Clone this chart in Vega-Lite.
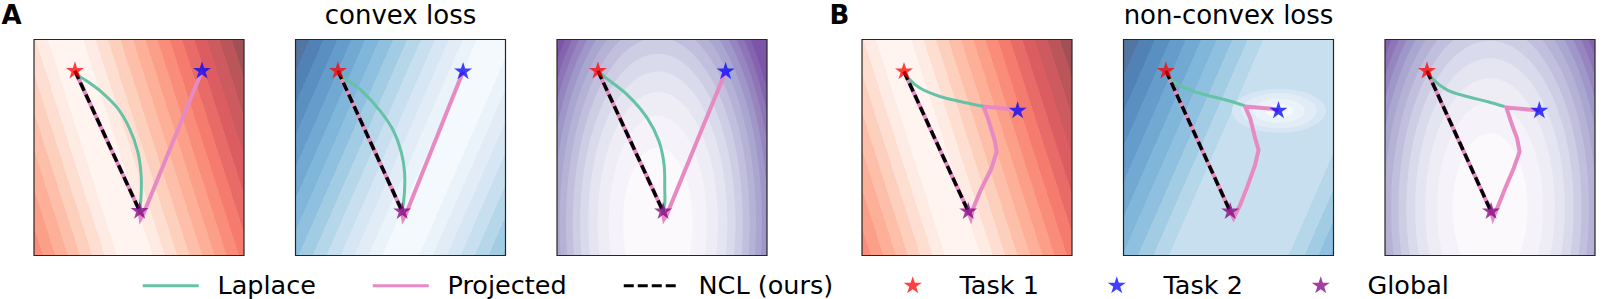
{
"$schema": "https://vega.github.io/schema/vega-lite/v6.json",
"padding": {"left": 1, "top": 2.5, "right": 2, "bottom": 0},
"resolve": {"scale": {"color": "independent", "size": "independent"}},
"datasets": {
"lines": [
{"p":1,"s":"Laplace","o":0,"x":19.5,"y":14.5},{"p":1,"s":"Laplace","o":1,"x":20.8,"y":16.3},{"p":1,"s":"Laplace","o":2,"x":26,"y":19.8},{"p":1,"s":"Laplace","o":3,"x":31.9,"y":24.1},{"p":1,"s":"Laplace","o":4,"x":39.8,"y":31.8},{"p":1,"s":"Laplace","o":5,"x":45.4,"y":41},{"p":1,"s":"Laplace","o":6,"x":49.4,"y":51.9},{"p":1,"s":"Laplace","o":7,"x":51,"y":62.6},{"p":1,"s":"Laplace","o":8,"x":51,"y":71.9},{"p":1,"s":"Laplace","o":9,"x":50.3,"y":79.4},
{"p":1,"s":"Projected","o":0,"x":19.5,"y":14.5},{"p":1,"s":"Projected","o":1,"x":50.3,"y":79.4},{"p":1,"s":"Projected","o":2,"x":50.8,"y":83},{"p":1,"s":"Projected","o":3,"x":52,"y":81},{"p":1,"s":"Projected","o":4,"x":80,"y":14.5},
{"p":1,"s":"NCL (ours)","o":0,"x":19.5,"y":14.5},{"p":1,"s":"NCL (ours)","o":1,"x":50.3,"y":79.4},
{"p":2,"s":"Laplace","o":0,"x":20.2,"y":14.5},{"p":2,"s":"Laplace","o":1,"x":21.4,"y":16.4},{"p":2,"s":"Laplace","o":2,"x":31,"y":23.3},{"p":2,"s":"Laplace","o":3,"x":40.5,"y":33.3},{"p":2,"s":"Laplace","o":4,"x":46.8,"y":42.6},{"p":2,"s":"Laplace","o":5,"x":50.3,"y":51.9},{"p":2,"s":"Laplace","o":6,"x":51.9,"y":61.1},{"p":2,"s":"Laplace","o":7,"x":51.9,"y":70.4},{"p":2,"s":"Laplace","o":8,"x":50.8,"y":79.6},
{"p":2,"s":"Projected","o":0,"x":20.2,"y":14.5},{"p":2,"s":"Projected","o":1,"x":50.8,"y":79.6},{"p":2,"s":"Projected","o":2,"x":51.3,"y":83},{"p":2,"s":"Projected","o":3,"x":52.5,"y":81},{"p":2,"s":"Projected","o":4,"x":79.8,"y":14.8},
{"p":2,"s":"NCL (ours)","o":0,"x":20.2,"y":14.5},{"p":2,"s":"NCL (ours)","o":1,"x":50.8,"y":79.6},
{"p":3,"s":"Laplace","o":0,"x":19.5,"y":14.5},{"p":3,"s":"Laplace","o":1,"x":22.4,"y":17.1},{"p":3,"s":"Laplace","o":2,"x":33.5,"y":25.6},{"p":3,"s":"Laplace","o":3,"x":43,"y":36.4},{"p":3,"s":"Laplace","o":4,"x":48.6,"y":47.2},{"p":3,"s":"Laplace","o":5,"x":51,"y":58},{"p":3,"s":"Laplace","o":6,"x":51.3,"y":68.8},{"p":3,"s":"Laplace","o":7,"x":51.3,"y":76},{"p":3,"s":"Laplace","o":8,"x":50.5,"y":79.6},
{"p":3,"s":"Projected","o":0,"x":19.5,"y":14.5},{"p":3,"s":"Projected","o":1,"x":50.5,"y":79.6},{"p":3,"s":"Projected","o":2,"x":51,"y":83},{"p":3,"s":"Projected","o":3,"x":52.3,"y":81},{"p":3,"s":"Projected","o":4,"x":80.3,"y":14.8},
{"p":3,"s":"NCL (ours)","o":0,"x":19.5,"y":14.5},{"p":3,"s":"NCL (ours)","o":1,"x":50.5,"y":79.6},
{"p":4,"s":"Laplace","o":0,"x":20,"y":14.8},{"p":4,"s":"Laplace","o":1,"x":22.1,"y":17.9},{"p":4,"s":"Laplace","o":2,"x":27.6,"y":22.5},{"p":4,"s":"Laplace","o":3,"x":37.1,"y":26.4},{"p":4,"s":"Laplace","o":4,"x":46.7,"y":28.7},{"p":4,"s":"Laplace","o":5,"x":57.8,"y":31},
{"p":4,"s":"Projected","o":0,"x":20,"y":14.8},{"p":4,"s":"Projected","o":1,"x":50.6,"y":79.6},{"p":4,"s":"Projected","o":2,"x":51.8,"y":82.7},{"p":4,"s":"Projected","o":3,"x":53,"y":78.1},{"p":4,"s":"Projected","o":4,"x":56.2,"y":70.4},{"p":4,"s":"Projected","o":5,"x":61.7,"y":59.6},{"p":4,"s":"Projected","o":6,"x":64.1,"y":51.9},{"p":4,"s":"Projected","o":7,"x":63.3,"y":47.2},{"p":4,"s":"Projected","o":8,"x":60.2,"y":37.2},{"p":4,"s":"Projected","o":9,"x":57.8,"y":31},{"p":4,"s":"Projected","o":10,"x":72,"y":32.3},{"p":4,"s":"Projected","o":11,"x":74.1,"y":32.9},
{"p":4,"s":"NCL (ours)","o":0,"x":20,"y":14.8},{"p":4,"s":"NCL (ours)","o":1,"x":50.6,"y":79.6},
{"p":5,"s":"Laplace","o":0,"x":20.2,"y":14.5},{"p":5,"s":"Laplace","o":1,"x":22.2,"y":17.9},{"p":5,"s":"Laplace","o":2,"x":29.4,"y":22.5},{"p":5,"s":"Laplace","o":3,"x":38.9,"y":25.6},{"p":5,"s":"Laplace","o":4,"x":48.4,"y":27.9},{"p":5,"s":"Laplace","o":5,"x":57.6,"y":30.6},
{"p":5,"s":"Projected","o":0,"x":20.2,"y":14.5},{"p":5,"s":"Projected","o":1,"x":50.8,"y":79.6},{"p":5,"s":"Projected","o":2,"x":52.4,"y":82.7},{"p":5,"s":"Projected","o":3,"x":55.6,"y":76.5},{"p":5,"s":"Projected","o":4,"x":58.7,"y":68.8},{"p":5,"s":"Projected","o":5,"x":62.7,"y":58},{"p":5,"s":"Projected","o":6,"x":64.3,"y":51.1},{"p":5,"s":"Projected","o":7,"x":62.7,"y":45.7},{"p":5,"s":"Projected","o":8,"x":60.3,"y":36.4},{"p":5,"s":"Projected","o":9,"x":57.9,"y":31},{"p":5,"s":"Projected","o":10,"x":70.6,"y":32.1},{"p":5,"s":"Projected","o":11,"x":73.8,"y":32.9},
{"p":5,"s":"NCL (ours)","o":0,"x":20.2,"y":14.5},{"p":5,"s":"NCL (ours)","o":1,"x":50.8,"y":79.6},
{"p":6,"s":"Laplace","o":0,"x":20,"y":14.5},{"p":6,"s":"Laplace","o":1,"x":22.4,"y":17.9},{"p":6,"s":"Laplace","o":2,"x":29.5,"y":23.3},{"p":6,"s":"Laplace","o":3,"x":39,"y":26.4},{"p":6,"s":"Laplace","o":4,"x":48.6,"y":28.7},{"p":6,"s":"Laplace","o":5,"x":56.8,"y":31},
{"p":6,"s":"Projected","o":0,"x":20,"y":14.5},{"p":6,"s":"Projected","o":1,"x":50.5,"y":79.6},{"p":6,"s":"Projected","o":2,"x":51.4,"y":82.7},{"p":6,"s":"Projected","o":3,"x":54.1,"y":76.5},{"p":6,"s":"Projected","o":4,"x":57.3,"y":68.8},{"p":6,"s":"Projected","o":5,"x":61.3,"y":59.6},{"p":6,"s":"Projected","o":6,"x":64.1,"y":51.9},{"p":6,"s":"Projected","o":7,"x":62.9,"y":45.7},{"p":6,"s":"Projected","o":8,"x":60.5,"y":39.5},{"p":6,"s":"Projected","o":9,"x":57.8,"y":31.5},{"p":6,"s":"Projected","o":10,"x":70.8,"y":32.6},{"p":6,"s":"Projected","o":11,"x":73.5,"y":32.9},
{"p":6,"s":"NCL (ours)","o":0,"x":20,"y":14.5},{"p":6,"s":"NCL (ours)","o":1,"x":50.5,"y":79.6}
],
"stars": [
{"p":1,"s":"Task 1","x":19.5,"y":14.5},{"p":1,"s":"Task 2","x":80,"y":14.5},{"p":1,"s":"Global","x":50.3,"y":79.4},
{"p":2,"s":"Task 1","x":20.2,"y":14.5},{"p":2,"s":"Task 2","x":79.8,"y":14.8},{"p":2,"s":"Global","x":50.8,"y":79.6},
{"p":3,"s":"Task 1","x":19.5,"y":14.5},{"p":3,"s":"Task 2","x":80.3,"y":14.8},{"p":3,"s":"Global","x":50.5,"y":79.6},
{"p":4,"s":"Task 1","x":20,"y":14.8},{"p":4,"s":"Task 2","x":74.1,"y":32.9},{"p":4,"s":"Global","x":50.6,"y":79.6},
{"p":5,"s":"Task 1","x":20.2,"y":14.5},{"p":5,"s":"Task 2","x":73.8,"y":32.9},{"p":5,"s":"Global","x":50.8,"y":79.6},
{"p":6,"s":"Task 1","x":20,"y":14.5},{"p":6,"s":"Task 2","x":73.5,"y":32.9},{"p":6,"s":"Global","x":50.5,"y":79.6}
],
"contours": [
{"p":3,"cx":48,"cy":85,"f":1},{"p":3,"cx":48,"cy":85,"f":0.9286},{"p":3,"cx":48,"cy":85,"f":0.8571},{"p":3,"cx":48,"cy":85,"f":0.7857},{"p":3,"cx":48,"cy":85,"f":0.7143},{"p":3,"cx":48,"cy":85,"f":0.6429},{"p":3,"cx":48,"cy":85,"f":0.5714},{"p":3,"cx":48,"cy":85,"f":0.5},{"p":3,"cx":48,"cy":85,"f":0.4286},{"p":3,"cx":48,"cy":85,"f":0.3571},{"p":3,"cx":48,"cy":85,"f":0.2857},{"p":3,"cx":48,"cy":85,"f":0.2143},{"p":3,"cx":48,"cy":85,"f":0.1429},{"p":3,"cx":48,"cy":85,"f":0.0714},
{"p":6,"cx":50,"cy":78,"f":1},{"p":6,"cx":50,"cy":78,"f":0.9286},{"p":6,"cx":50,"cy":78,"f":0.8571},{"p":6,"cx":50,"cy":78,"f":0.7857},{"p":6,"cx":50,"cy":78,"f":0.7143},{"p":6,"cx":50,"cy":78,"f":0.6429},{"p":6,"cx":50,"cy":78,"f":0.5714},{"p":6,"cx":50,"cy":78,"f":0.5},{"p":6,"cx":50,"cy":78,"f":0.4286},{"p":6,"cx":50,"cy":78,"f":0.3571},{"p":6,"cx":50,"cy":78,"f":0.2857},{"p":6,"cx":50,"cy":78,"f":0.2143},{"p":6,"cx":50,"cy":78,"f":0.1429},{"p":6,"cx":50,"cy":78,"f":0.0714},
{"p":5,"cx":74,"cy":33,"f":1},{"p":5,"cx":74,"cy":33,"f":0.64},{"p":5,"cx":74,"cy":33,"f":0.3},{"p":5,"cx":74,"cy":33,"f":0.09}
],
"box": [{"x0":0,"x1":100,"y0":0,"y1":100}]
},
"spacing": 61,
"hconcat": [
{"spacing": 49.5, "resolve": {"scale": {"color": "independent", "size": "independent"}}, "hconcat": [
{"width": 210, "height": 216,
 "title": {"text": "A", "anchor": "start", "dx": -32, "fontWeight": "bold"},
 "encoding": {"x": {"field": "x", "type": "quantitative", "scale": {"domain": [0,100], "nice": false, "zero": false}, "axis": null}, "y": {"field": "y", "type": "quantitative", "scale": {"domain": [0,100], "nice": false, "zero": false, "reverse": true}, "axis": null}},
 "layer": [
  {"data": {"name": "box"}, "mark": {"type": "rect", "fill": {"gradient": "linear", "x1": -0.122, "y1": 0.644, "x2": 1.085, "y2": 0.246, "stops": [{"offset":0,"color":"#fa8d7a"},{"offset":0.035,"color":"#fa8d7a"},{"offset":0.035,"color":"#fc9f88"},{"offset":0.079,"color":"#fc9f88"},{"offset":0.079,"color":"#fdaf98"},{"offset":0.124,"color":"#fdaf98"},{"offset":0.124,"color":"#fdbfaa"},{"offset":0.167,"color":"#fdbfaa"},{"offset":0.167,"color":"#fdcfbd"},{"offset":0.211,"color":"#fdcfbd"},{"offset":0.211,"color":"#feded1"},{"offset":0.255,"color":"#feded1"},{"offset":0.255,"color":"#feebe3"},{"offset":0.299,"color":"#feebe3"},{"offset":0.299,"color":"#fff4ef"},{"offset":0.425,"color":"#fff4ef"},{"offset":0.425,"color":"#feebe3"},{"offset":0.469,"color":"#feebe3"},{"offset":0.469,"color":"#feded1"},{"offset":0.513,"color":"#feded1"},{"offset":0.513,"color":"#fdcfbd"},{"offset":0.557,"color":"#fdcfbd"},{"offset":0.557,"color":"#fdbfaa"},{"offset":0.602,"color":"#fdbfaa"},{"offset":0.602,"color":"#fdaf98"},{"offset":0.646,"color":"#fdaf98"},{"offset":0.646,"color":"#fc9f88"},{"offset":0.689,"color":"#fc9f88"},{"offset":0.689,"color":"#fa8d7a"},{"offset":0.733,"color":"#fa8d7a"},{"offset":0.733,"color":"#f57b6e"},{"offset":0.777,"color":"#f57b6e"},{"offset":0.777,"color":"#e96b67"},{"offset":0.821,"color":"#e96b67"},{"offset":0.821,"color":"#db5d61"},{"offset":0.865,"color":"#db5d61"},{"offset":0.865,"color":"#cc5a5e"},{"offset":0.91,"color":"#cc5a5e"},{"offset":0.91,"color":"#ba565a"},{"offset":0.954,"color":"#ba565a"},{"offset":0.954,"color":"#a15057"},{"offset":1,"color":"#a15057"}]}},
   "encoding": {"x": {"field": "x0", "type": "quantitative", "axis": null}, "x2": {"field": "x1"}, "y": {"field": "y0", "type": "quantitative", "axis": null}, "y2": {"field": "y1"}}},
  {"data": {"name": "box"}, "mark": {"type": "rect", "filled": false, "stroke": "#262626", "strokeWidth": 1.2}, "encoding": {"x": {"field": "x0", "type": "quantitative", "axis": null}, "x2": {"field": "x1"}, "y": {"field": "y0", "type": "quantitative", "axis": null}, "y2": {"field": "y1"}}},
  {"data": {"name": "lines"}, "transform": [{"filter": "datum.p == 1 && datum.s == 'Projected'"}], "mark": {"type": "line", "strokeWidth": 4}, "encoding": {"order": {"field": "o", "type": "quantitative"}, "stroke": {"field": "s", "type": "nominal", "scale": {"domain": ["Laplace","Projected","NCL (ours)"], "range": ["#66c2a5","#e78ac3","#000000"]},
    "legend": {"title": null, "orient": "none", "legendX": 124, "legendY": 233, "direction": "horizontal", "columns": 3, "symbolType": "M-2.8,0L2.8,0", "symbolStrokeWidth": 3, "columnPadding": 50,
     "encode": {"symbols": {"update": {"strokeDash": {"signal": "datum.value === 'NCL (ours)' ? [10,4] : [1,0]"}}}}}}}},
  {"data": {"name": "lines"}, "transform": [{"filter": "datum.p == 1 && datum.s == 'Laplace'"}], "mark": {"type": "line", "strokeWidth": 3, "interpolate": "catmull-rom"}, "encoding": {"order": {"field": "o", "type": "quantitative"}, "stroke": {"field": "s", "type": "nominal", "legend": {"title": null}}}},
  {"data": {"name": "lines"}, "transform": [{"filter": "datum.p == 1 && datum.s == 'NCL (ours)'"}], "mark": {"type": "line", "strokeWidth": 3.5, "strokeDash": [9,4]}, "encoding": {"order": {"field": "o", "type": "quantitative"}, "stroke": {"field": "s", "type": "nominal", "legend": {"title": null}}}},
  {"data": {"name": "stars"}, "transform": [{"filter": "datum.p == 1"}], "mark": {"type": "point", "shape": "M0,-0.95L0.2133,-0.2936L0.9035,-0.2936L0.3451,0.1121L0.5584,0.7686L0,0.3629L-0.5584,0.7686L-0.3451,0.1121L-0.9035,-0.2936L-0.2133,-0.2936Z", "filled": true, "size": 400, "opacity": 0.75, "strokeWidth": 0}, "encoding": {"fill": {"field": "s", "type": "nominal", "scale": {"domain": ["Task 1","Task 2","Global"], "range": ["#ff0000","#0000ff","#800080"]},
    "legend": {"title": null, "orient": "none", "legendX": 866, "legendY": 233, "direction": "horizontal", "columns": 3, "symbolType": "M0,-0.95L0.2133,-0.2936L0.9035,-0.2936L0.3451,0.1121L0.5584,0.7686L0,0.3629L-0.5584,0.7686L-0.3451,0.1121L-0.9035,-0.2936L-0.2133,-0.2936Z", "symbolStrokeWidth": 0, "symbolOpacity": 0.7, "columnPadding": 65}}}}
 ]},
{"width": 210, "height": 216,
 "title": {"text": "convex loss", "anchor": "middle"},
 "encoding": {"x": {"field": "x", "type": "quantitative", "scale": {"domain": [0,100], "nice": false, "zero": false}, "axis": null}, "y": {"field": "y", "type": "quantitative", "scale": {"domain": [0,100], "nice": false, "zero": false, "reverse": true}, "axis": null}},
 "layer": [
  {"data": {"name": "box"}, "mark": {"type": "rect", "fill": {"gradient": "linear", "x1": 1.145, "y1": 0.689, "x2": -0.068, "y2": 0.143, "stops": [{"offset":0,"color":"#8fc0df"},{"offset":0.013,"color":"#8fc0df"},{"offset":0.013,"color":"#a1cce4"},{"offset":0.059,"color":"#a1cce4"},{"offset":0.059,"color":"#b6d7e9"},{"offset":0.104,"color":"#b6d7e9"},{"offset":0.104,"color":"#c7dfee"},{"offset":0.15,"color":"#c7dfee"},{"offset":0.15,"color":"#d7e6f4"},{"offset":0.195,"color":"#d7e6f4"},{"offset":0.195,"color":"#e1ecf7"},{"offset":0.241,"color":"#e1ecf7"},{"offset":0.241,"color":"#eaf3fa"},{"offset":0.286,"color":"#eaf3fa"},{"offset":0.286,"color":"#f4f9fd"},{"offset":0.406,"color":"#f4f9fd"},{"offset":0.406,"color":"#eaf3fa"},{"offset":0.451,"color":"#eaf3fa"},{"offset":0.451,"color":"#e1ecf7"},{"offset":0.497,"color":"#e1ecf7"},{"offset":0.497,"color":"#d7e6f4"},{"offset":0.542,"color":"#d7e6f4"},{"offset":0.542,"color":"#c7dfee"},{"offset":0.588,"color":"#c7dfee"},{"offset":0.588,"color":"#b6d7e9"},{"offset":0.633,"color":"#b6d7e9"},{"offset":0.633,"color":"#a1cce4"},{"offset":0.679,"color":"#a1cce4"},{"offset":0.679,"color":"#8fc0df"},{"offset":0.724,"color":"#8fc0df"},{"offset":0.724,"color":"#7fb6d9"},{"offset":0.77,"color":"#7fb6d9"},{"offset":0.77,"color":"#71a9d2"},{"offset":0.815,"color":"#71a9d2"},{"offset":0.815,"color":"#649ccb"},{"offset":0.861,"color":"#649ccb"},{"offset":0.861,"color":"#5a8fc1"},{"offset":0.906,"color":"#5a8fc1"},{"offset":0.906,"color":"#5282b5"},{"offset":0.952,"color":"#5282b5"},{"offset":0.952,"color":"#5275a1"},{"offset":1,"color":"#5275a1"}]}},
   "encoding": {"x": {"field": "x0", "type": "quantitative", "axis": null}, "x2": {"field": "x1"}, "y": {"field": "y0", "type": "quantitative", "axis": null}, "y2": {"field": "y1"}}},
  {"data": {"name": "box"}, "mark": {"type": "rect", "filled": false, "stroke": "#262626", "strokeWidth": 1.2}, "encoding": {"x": {"field": "x0", "type": "quantitative", "axis": null}, "x2": {"field": "x1"}, "y": {"field": "y0", "type": "quantitative", "axis": null}, "y2": {"field": "y1"}}},
  {"data": {"name": "lines"}, "transform": [{"filter": "datum.p == 2 && datum.s == 'Projected'"}], "mark": {"type": "line", "strokeWidth": 4}, "encoding": {"order": {"field": "o", "type": "quantitative"}, "stroke": {"field": "s", "type": "nominal", "legend": {"title": null}}}},
  {"data": {"name": "lines"}, "transform": [{"filter": "datum.p == 2 && datum.s == 'Laplace'"}], "mark": {"type": "line", "strokeWidth": 3, "interpolate": "catmull-rom"}, "encoding": {"order": {"field": "o", "type": "quantitative"}, "stroke": {"field": "s", "type": "nominal", "legend": {"title": null}}}},
  {"data": {"name": "lines"}, "transform": [{"filter": "datum.p == 2 && datum.s == 'NCL (ours)'"}], "mark": {"type": "line", "strokeWidth": 3.5, "strokeDash": [9,4]}, "encoding": {"order": {"field": "o", "type": "quantitative"}, "stroke": {"field": "s", "type": "nominal", "legend": {"title": null}}}},
  {"data": {"name": "stars"}, "transform": [{"filter": "datum.p == 2"}], "mark": {"type": "point", "shape": "M0,-0.95L0.2133,-0.2936L0.9035,-0.2936L0.3451,0.1121L0.5584,0.7686L0,0.3629L-0.5584,0.7686L-0.3451,0.1121L-0.9035,-0.2936L-0.2133,-0.2936Z", "filled": true, "size": 400, "opacity": 0.75, "strokeWidth": 0}, "encoding": {"fill": {"field": "s", "type": "nominal", "legend": {"title": null}}}}
 ]},
{"width": 210, "height": 216,
 "title": {"text": "A", "anchor": "middle", "color": "rgba(0,0,0,0)"},
 "encoding": {"x": {"field": "x", "type": "quantitative", "scale": {"domain": [0,100], "nice": false, "zero": false}, "axis": null}, "y": {"field": "y", "type": "quantitative", "scale": {"domain": [0,100], "nice": false, "zero": false, "reverse": true}, "axis": null}},
 "layer": [
  {"data": {"name": "box"}, "mark": {"type": "rect", "fill": "#7d55a8"}, "encoding": {"x": {"field": "x0", "type": "quantitative", "axis": null}, "x2": {"field": "x1"}, "y": {"field": "y0", "type": "quantitative", "axis": null}, "y2": {"field": "y1"}}},
  {"data": {"name": "contours"}, "transform": [{"filter": "datum.p == 3"}], "mark": {"type": "point", "shape": "M-1,0A1,2.18,0,1,1,1,0A1,2.18,0,1,1,-1,0Z", "filled": true, "opacity": 1, "strokeWidth": 0, "clip": true},
   "encoding": {"x": {"field": "cx", "type": "quantitative", "axis": null}, "y": {"field": "cy", "type": "quantitative", "axis": null}, "size": {"field": "f", "type": "quantitative", "scale": {"domain": [0,1], "range": [0,67600], "zero": true}, "legend": null}, "color": {"field": "f", "type": "quantitative", "scale": {"domain": [0.0357,0.1607,0.2857,0.4107,0.5357,0.6607,0.7857,0.9107,1.0357], "range": ["#fdfcfe","#f4f2f8","#e5e5f1","#d0d1e6","#bbb8d9","#a6a4cf","#9785bf","#8768b1","#794da4"]}, "legend": null}, "order": {"field": "f", "sort": "descending"}}},
  {"data": {"name": "box"}, "mark": {"type": "rect", "filled": false, "stroke": "#262626", "strokeWidth": 1.2}, "encoding": {"x": {"field": "x0", "type": "quantitative", "axis": null}, "x2": {"field": "x1"}, "y": {"field": "y0", "type": "quantitative", "axis": null}, "y2": {"field": "y1"}}},
  {"data": {"name": "lines"}, "transform": [{"filter": "datum.p == 3 && datum.s == 'Projected'"}], "mark": {"type": "line", "strokeWidth": 4}, "encoding": {"order": {"field": "o", "type": "quantitative"}, "stroke": {"field": "s", "type": "nominal", "legend": {"title": null}}}},
  {"data": {"name": "lines"}, "transform": [{"filter": "datum.p == 3 && datum.s == 'Laplace'"}], "mark": {"type": "line", "strokeWidth": 3, "interpolate": "catmull-rom"}, "encoding": {"order": {"field": "o", "type": "quantitative"}, "stroke": {"field": "s", "type": "nominal", "legend": {"title": null}}}},
  {"data": {"name": "lines"}, "transform": [{"filter": "datum.p == 3 && datum.s == 'NCL (ours)'"}], "mark": {"type": "line", "strokeWidth": 3.5, "strokeDash": [9,4]}, "encoding": {"order": {"field": "o", "type": "quantitative"}, "stroke": {"field": "s", "type": "nominal", "legend": {"title": null}}}},
  {"data": {"name": "stars"}, "transform": [{"filter": "datum.p == 3"}], "mark": {"type": "point", "shape": "M0,-0.95L0.2133,-0.2936L0.9035,-0.2936L0.3451,0.1121L0.5584,0.7686L0,0.3629L-0.5584,0.7686L-0.3451,0.1121L-0.9035,-0.2936L-0.2133,-0.2936Z", "filled": true, "size": 400, "opacity": 0.75, "strokeWidth": 0}, "encoding": {"fill": {"field": "s", "type": "nominal", "legend": {"title": null}}}}
 ]}
]},
{"spacing": 49.5, "resolve": {"scale": {"color": "independent", "size": "independent"}}, "hconcat": [
{"width": 210, "height": 216,
 "title": {"text": "B", "anchor": "start", "dx": -32, "fontWeight": "bold"},
 "encoding": {"x": {"field": "x", "type": "quantitative", "scale": {"domain": [0,100], "nice": false, "zero": false}, "axis": null}, "y": {"field": "y", "type": "quantitative", "scale": {"domain": [0,100], "nice": false, "zero": false, "reverse": true}, "axis": null}},
 "layer": [
  {"data": {"name": "box"}, "mark": {"type": "rect", "fill": {"gradient": "linear", "x1": -0.122, "y1": 0.644, "x2": 1.085, "y2": 0.246, "stops": [{"offset":0,"color":"#fa8d7a"},{"offset":0.035,"color":"#fa8d7a"},{"offset":0.035,"color":"#fc9f88"},{"offset":0.079,"color":"#fc9f88"},{"offset":0.079,"color":"#fdaf98"},{"offset":0.124,"color":"#fdaf98"},{"offset":0.124,"color":"#fdbfaa"},{"offset":0.167,"color":"#fdbfaa"},{"offset":0.167,"color":"#fdcfbd"},{"offset":0.211,"color":"#fdcfbd"},{"offset":0.211,"color":"#feded1"},{"offset":0.255,"color":"#feded1"},{"offset":0.255,"color":"#feebe3"},{"offset":0.299,"color":"#feebe3"},{"offset":0.299,"color":"#fff4ef"},{"offset":0.425,"color":"#fff4ef"},{"offset":0.425,"color":"#feebe3"},{"offset":0.469,"color":"#feebe3"},{"offset":0.469,"color":"#feded1"},{"offset":0.513,"color":"#feded1"},{"offset":0.513,"color":"#fdcfbd"},{"offset":0.557,"color":"#fdcfbd"},{"offset":0.557,"color":"#fdbfaa"},{"offset":0.602,"color":"#fdbfaa"},{"offset":0.602,"color":"#fdaf98"},{"offset":0.646,"color":"#fdaf98"},{"offset":0.646,"color":"#fc9f88"},{"offset":0.689,"color":"#fc9f88"},{"offset":0.689,"color":"#fa8d7a"},{"offset":0.733,"color":"#fa8d7a"},{"offset":0.733,"color":"#f57b6e"},{"offset":0.777,"color":"#f57b6e"},{"offset":0.777,"color":"#e96b67"},{"offset":0.821,"color":"#e96b67"},{"offset":0.821,"color":"#db5d61"},{"offset":0.865,"color":"#db5d61"},{"offset":0.865,"color":"#cc5a5e"},{"offset":0.91,"color":"#cc5a5e"},{"offset":0.91,"color":"#ba565a"},{"offset":0.954,"color":"#ba565a"},{"offset":0.954,"color":"#a15057"},{"offset":1,"color":"#a15057"}]}},
   "encoding": {"x": {"field": "x0", "type": "quantitative", "axis": null}, "x2": {"field": "x1"}, "y": {"field": "y0", "type": "quantitative", "axis": null}, "y2": {"field": "y1"}}},
  {"data": {"name": "box"}, "mark": {"type": "rect", "filled": false, "stroke": "#262626", "strokeWidth": 1.2}, "encoding": {"x": {"field": "x0", "type": "quantitative", "axis": null}, "x2": {"field": "x1"}, "y": {"field": "y0", "type": "quantitative", "axis": null}, "y2": {"field": "y1"}}},
  {"data": {"name": "lines"}, "transform": [{"filter": "datum.p == 4 && datum.s == 'Projected'"}], "mark": {"type": "line", "strokeWidth": 4}, "encoding": {"order": {"field": "o", "type": "quantitative"}, "stroke": {"field": "s", "type": "nominal", "legend": {"title": null}}}},
  {"data": {"name": "lines"}, "transform": [{"filter": "datum.p == 4 && datum.s == 'Laplace'"}], "mark": {"type": "line", "strokeWidth": 3, "interpolate": "catmull-rom"}, "encoding": {"order": {"field": "o", "type": "quantitative"}, "stroke": {"field": "s", "type": "nominal", "legend": {"title": null}}}},
  {"data": {"name": "lines"}, "transform": [{"filter": "datum.p == 4 && datum.s == 'NCL (ours)'"}], "mark": {"type": "line", "strokeWidth": 3.5, "strokeDash": [9,4]}, "encoding": {"order": {"field": "o", "type": "quantitative"}, "stroke": {"field": "s", "type": "nominal", "legend": {"title": null}}}},
  {"data": {"name": "stars"}, "transform": [{"filter": "datum.p == 4"}], "mark": {"type": "point", "shape": "M0,-0.95L0.2133,-0.2936L0.9035,-0.2936L0.3451,0.1121L0.5584,0.7686L0,0.3629L-0.5584,0.7686L-0.3451,0.1121L-0.9035,-0.2936L-0.2133,-0.2936Z", "filled": true, "size": 400, "opacity": 0.75, "strokeWidth": 0}, "encoding": {"fill": {"field": "s", "type": "nominal", "legend": {"title": null}}}}
 ]},
{"width": 210, "height": 216,
 "title": {"text": "non-convex loss", "anchor": "middle"},
 "encoding": {"x": {"field": "x", "type": "quantitative", "scale": {"domain": [0,100], "nice": false, "zero": false}, "axis": null}, "y": {"field": "y", "type": "quantitative", "scale": {"domain": [0,100], "nice": false, "zero": false, "reverse": true}, "axis": null}},
 "layer": [
  {"data": {"name": "box"}, "mark": {"type": "rect", "fill": {"gradient": "linear", "x1": 1.145, "y1": 0.689, "x2": -0.068, "y2": 0.143, "stops": [{"offset":0,"color":"#7fb6d9"},{"offset":0.015,"color":"#7fb6d9"},{"offset":0.015,"color":"#8fc0df"},{"offset":0.053,"color":"#8fc0df"},{"offset":0.053,"color":"#a1cce4"},{"offset":0.098,"color":"#a1cce4"},{"offset":0.098,"color":"#b6d7e9"},{"offset":0.15,"color":"#b6d7e9"},{"offset":0.15,"color":"#c7dfee"},{"offset":0.541,"color":"#c7dfee"},{"offset":0.541,"color":"#b6d7e9"},{"offset":0.592,"color":"#b6d7e9"},{"offset":0.592,"color":"#a1cce4"},{"offset":0.642,"color":"#a1cce4"},{"offset":0.642,"color":"#8fc0df"},{"offset":0.693,"color":"#8fc0df"},{"offset":0.693,"color":"#7fb6d9"},{"offset":0.744,"color":"#7fb6d9"},{"offset":0.744,"color":"#71a9d2"},{"offset":0.794,"color":"#71a9d2"},{"offset":0.794,"color":"#649ccb"},{"offset":0.845,"color":"#649ccb"},{"offset":0.845,"color":"#5a8fc1"},{"offset":0.895,"color":"#5a8fc1"},{"offset":0.895,"color":"#5282b5"},{"offset":0.946,"color":"#5282b5"},{"offset":0.946,"color":"#5275a1"},{"offset":1,"color":"#5275a1"}]}},
   "encoding": {"x": {"field": "x0", "type": "quantitative", "axis": null}, "x2": {"field": "x1"}, "y": {"field": "y0", "type": "quantitative", "axis": null}, "y2": {"field": "y1"}}},
  {"data": {"name": "contours"}, "transform": [{"filter": "datum.p == 5"}], "mark": {"type": "point", "shape": "M-1,0A1,0.47,0,1,1,1,0A1,0.47,0,1,1,-1,0Z", "filled": true, "opacity": 1, "strokeWidth": 0, "clip": true},
   "encoding": {"x": {"field": "cx", "type": "quantitative", "axis": null}, "y": {"field": "cy", "type": "quantitative", "axis": null}, "size": {"field": "f", "type": "quantitative", "scale": {"domain": [0,1], "range": [0,8836], "zero": true}, "legend": null}, "color": {"field": "f", "type": "quantitative", "scale": {"domain": [0.09,0.3,0.64,1], "range": ["#f4f9fd","#eaf3fa","#e1ecf7","#d7e6f4"]}, "legend": null}, "order": {"field": "f", "sort": "descending"}}},
  {"data": {"name": "box"}, "mark": {"type": "rect", "filled": false, "stroke": "#262626", "strokeWidth": 1.2}, "encoding": {"x": {"field": "x0", "type": "quantitative", "axis": null}, "x2": {"field": "x1"}, "y": {"field": "y0", "type": "quantitative", "axis": null}, "y2": {"field": "y1"}}},
  {"data": {"name": "lines"}, "transform": [{"filter": "datum.p == 5 && datum.s == 'Projected'"}], "mark": {"type": "line", "strokeWidth": 4}, "encoding": {"order": {"field": "o", "type": "quantitative"}, "stroke": {"field": "s", "type": "nominal", "legend": {"title": null}}}},
  {"data": {"name": "lines"}, "transform": [{"filter": "datum.p == 5 && datum.s == 'Laplace'"}], "mark": {"type": "line", "strokeWidth": 3, "interpolate": "catmull-rom"}, "encoding": {"order": {"field": "o", "type": "quantitative"}, "stroke": {"field": "s", "type": "nominal", "legend": {"title": null}}}},
  {"data": {"name": "lines"}, "transform": [{"filter": "datum.p == 5 && datum.s == 'NCL (ours)'"}], "mark": {"type": "line", "strokeWidth": 3.5, "strokeDash": [9,4]}, "encoding": {"order": {"field": "o", "type": "quantitative"}, "stroke": {"field": "s", "type": "nominal", "legend": {"title": null}}}},
  {"data": {"name": "stars"}, "transform": [{"filter": "datum.p == 5"}], "mark": {"type": "point", "shape": "M0,-0.95L0.2133,-0.2936L0.9035,-0.2936L0.3451,0.1121L0.5584,0.7686L0,0.3629L-0.5584,0.7686L-0.3451,0.1121L-0.9035,-0.2936L-0.2133,-0.2936Z", "filled": true, "size": 400, "opacity": 0.75, "strokeWidth": 0}, "encoding": {"fill": {"field": "s", "type": "nominal", "legend": {"title": null}}}}
 ]},
{"width": 210, "height": 216,
 "title": {"text": "A", "anchor": "middle", "color": "rgba(0,0,0,0)"},
 "encoding": {"x": {"field": "x", "type": "quantitative", "scale": {"domain": [0,100], "nice": false, "zero": false}, "axis": null}, "y": {"field": "y", "type": "quantitative", "scale": {"domain": [0,100], "nice": false, "zero": false, "reverse": true}, "axis": null}},
 "layer": [
  {"data": {"name": "box"}, "mark": {"type": "rect", "fill": "#7d55a8"}, "encoding": {"x": {"field": "x0", "type": "quantitative", "axis": null}, "x2": {"field": "x1"}, "y": {"field": "y0", "type": "quantitative", "axis": null}, "y2": {"field": "y1"}}},
  {"data": {"name": "contours"}, "transform": [{"filter": "datum.p == 6"}], "mark": {"type": "point", "shape": "M-1,0A1,2,0,1,1,1,0A1,2,0,1,1,-1,0Z", "filled": true, "opacity": 1, "strokeWidth": 0, "clip": true},
   "encoding": {"x": {"field": "cx", "type": "quantitative", "axis": null}, "y": {"field": "cy", "type": "quantitative", "axis": null}, "size": {"field": "f", "type": "quantitative", "scale": {"domain": [0,1], "range": [0,78400], "zero": true}, "legend": null}, "color": {"field": "f", "type": "quantitative", "scale": {"domain": [0.0357,0.1607,0.2857,0.4107,0.5357,0.6607,0.7857,0.9107,1.0357], "range": ["#fdfcfe","#f4f2f8","#e5e5f1","#d0d1e6","#bbb8d9","#a6a4cf","#9785bf","#8768b1","#794da4"]}, "legend": null}, "order": {"field": "f", "sort": "descending"}}},
  {"data": {"name": "box"}, "mark": {"type": "rect", "filled": false, "stroke": "#262626", "strokeWidth": 1.2}, "encoding": {"x": {"field": "x0", "type": "quantitative", "axis": null}, "x2": {"field": "x1"}, "y": {"field": "y0", "type": "quantitative", "axis": null}, "y2": {"field": "y1"}}},
  {"data": {"name": "lines"}, "transform": [{"filter": "datum.p == 6 && datum.s == 'Projected'"}], "mark": {"type": "line", "strokeWidth": 4}, "encoding": {"order": {"field": "o", "type": "quantitative"}, "stroke": {"field": "s", "type": "nominal", "legend": {"title": null}}}},
  {"data": {"name": "lines"}, "transform": [{"filter": "datum.p == 6 && datum.s == 'Laplace'"}], "mark": {"type": "line", "strokeWidth": 3, "interpolate": "catmull-rom"}, "encoding": {"order": {"field": "o", "type": "quantitative"}, "stroke": {"field": "s", "type": "nominal", "legend": {"title": null}}}},
  {"data": {"name": "lines"}, "transform": [{"filter": "datum.p == 6 && datum.s == 'NCL (ours)'"}], "mark": {"type": "line", "strokeWidth": 3.5, "strokeDash": [9,4]}, "encoding": {"order": {"field": "o", "type": "quantitative"}, "stroke": {"field": "s", "type": "nominal", "legend": {"title": null}}}},
  {"data": {"name": "stars"}, "transform": [{"filter": "datum.p == 6"}], "mark": {"type": "point", "shape": "M0,-0.95L0.2133,-0.2936L0.9035,-0.2936L0.3451,0.1121L0.5584,0.7686L0,0.3629L-0.5584,0.7686L-0.3451,0.1121L-0.9035,-0.2936L-0.2133,-0.2936Z", "filled": true, "size": 400, "opacity": 0.75, "strokeWidth": 0}, "encoding": {"fill": {"field": "s", "type": "nominal", "legend": {"title": null}}}}
 ]}
]}
],
"config": {
 "view": {"stroke": null},
 "font": "DejaVu Sans",
 "title": {"font": "DejaVu Sans", "fontSize": 26, "fontWeight": "normal", "color": "#000000", "offset": 10, "baseline": "alphabetic"},
 "legend": {"symbolSize": 400, "labelFont": "DejaVu Sans", "labelFontSize": 25.5, "labelColor": "#000000", "labelOffset": 34, "padding": 0, "labelLimit": 400}
}
}
